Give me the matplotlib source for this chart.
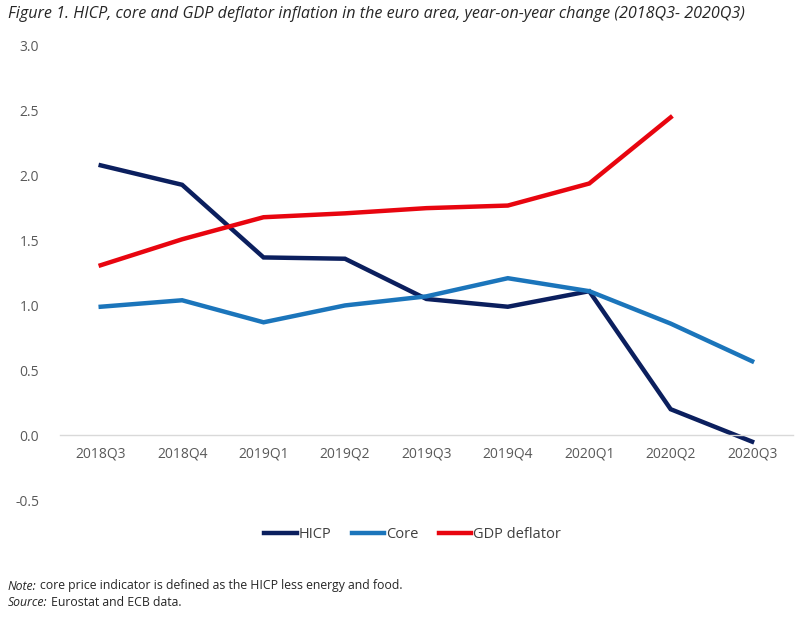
import matplotlib
matplotlib.use("Agg")
import matplotlib.pyplot as plt
import numpy as np

categories = ["2018Q3", "2018Q4", "2019Q1", "2019Q2", "2019Q3", "2019Q4", "2020Q1", "2020Q2", "2020Q3"]
hicp = [2.08, 1.93, 1.37, 1.36, 1.05, 0.99, 1.11, 0.20, -0.05]
core = [0.99, 1.04, 0.87, 1.00, 1.07, 1.21, 1.11, 0.86, 0.57]
gdp_deflator = [1.31, 1.51, 1.68, 1.71, 1.75, 1.77, 1.94, 2.45, np.nan]
y_ticks = [-0.5, 0.0, 0.5, 1.0, 1.5, 2.0, 2.5, 3.0]

plt.rcParams['font.family'] = ['Open Sans', 'DejaVu Sans']

fig = plt.figure(figsize=(8, 6.19), dpi=100)
ax = fig.add_axes([0.075, 0.1922, 0.916, 0.7335])

x = np.arange(len(categories))
ax.plot(x, hicp, color='#0b1f5e', lw=3.2, label='HICP', solid_joinstyle='miter')
ax.plot(x, core, color='#1b75bb', lw=3.2, label='Core', solid_joinstyle='miter')
ax.plot(x, gdp_deflator, color='#e8050f', lw=3.2, label='GDP deflator', solid_joinstyle='miter')

ax.set_xlim(-0.5, len(categories) - 0.5)
ax.set_ylim(-0.5, 3.0)
ax.set_yticks(y_ticks)
ax.set_yticklabels([f"{v:.1f}" for v in y_ticks])
ax.set_xticks(x)
ax.set_xticklabels(categories)

for s in ['top', 'right', 'left']:
    ax.spines[s].set_visible(False)
ax.spines['bottom'].set_position(('data', 0))
ax.spines['bottom'].set_color('#d9d9d9')
ax.spines['bottom'].set_linewidth(1.0)
ax.tick_params(axis='both', length=0, colors='#595959', labelsize=10)
ax.tick_params(axis='y', pad=15)
ax.tick_params(axis='x', pad=8)

leg = fig.legend(loc='center', bbox_to_anchor=(0.516, 1 - 535 / 619), ncol=3, frameon=False,
                 handlelength=2.2, handletextpad=0.15, columnspacing=1.4,
                 prop={'size': 10.5})
for t in leg.get_texts():
    t.set_color('#404040')

fig.text(0.01, 1 - 14 / 619, "Figure 1. HICP, core and GDP deflator inflation in the euro area, year-on-year change (2018Q3- 2020Q3)",
         style='italic', fontsize=11.65, color='#262626', va='center', ha='left')

fig.canvas.draw()
renderer = fig.canvas.get_renderer()

def label_pair(y_px, lead, rest, size=8.8):
    t1 = fig.text(0.01, 1 - y_px / 619, lead, style='italic', fontsize=size, color='#262626',
                  va='center', ha='left')
    bb = t1.get_window_extent(renderer=renderer)
    x2 = (bb.x1 + 3) / fig.bbox.width
    fig.text(x2, 1 - y_px / 619, rest, fontsize=size, color='#262626', va='center', ha='left')

label_pair(586, "Note:", "core price indicator is defined as the HICP less energy and food.")
label_pair(603, "Source:", "Eurostat and ECB data.")

fig.savefig("out.png", dpi=100)
